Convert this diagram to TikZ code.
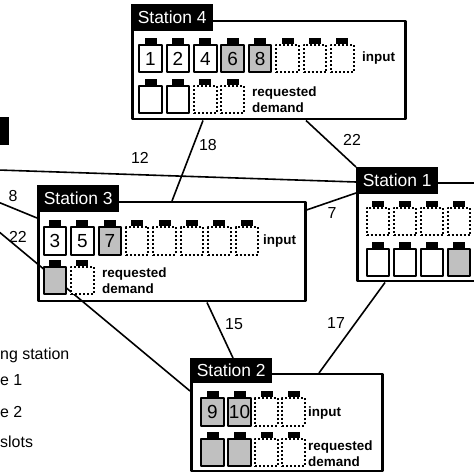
\documentclass[tikz,border=0pt]{standalone}
\usepackage{fontspec}
\setmainfont{Liberation Sans}
\usetikzlibrary{calc}
\definecolor{slotgray}{RGB}{192,192,192}
\begin{document}
\begin{tikzpicture}[line join=bevel,
  frame/.style={draw, line width=2.5bp, anchor=north west, inner sep=0pt},
  title/.style={fill=black, text=white, anchor=north west, inner sep=0pt, minimum width=82bp, minimum height=27bp, font=\fontsize{17.5}{20}\selectfont},
  capbox/.style={fill=black, draw=none, minimum width=12bp, minimum height=6bp, inner sep=0pt},
  slotbox/.style={draw, line width=2bp, fill=white, minimum width=22.5bp, minimum height=27.5bp, inner sep=0pt, font=\fontsize{19}{20}\selectfont, label={[capbox]north:}},
  fullslot/.style={slotbox, fill=slotgray},
  freeslot/.style={slotbox, dotted},
  edge/.style={line width=1.6bp},
  weight/.style={inner sep=0pt, font=\fontsize{16}{18}\selectfont},
  note/.style={inner sep=0pt, anchor=west, align=left, font=\bfseries\fontsize{13.5}{16}\selectfont},
  legend/.style={inner sep=0pt, anchor=west, font=\fontsize{16}{18}\selectfont}]
\useasboundingbox (0bp,0bp) rectangle (474bp,474bp);
%%
  % Node: Station 4
  \node [frame, minimum width=273bp, minimum height=98bp] (st4) at (131bp,454bp) {};
  % Node: Station 3
  \node [frame, minimum width=267bp, minimum height=99bp] (st3) at (37bp,273bp) {};
  % Node: Station 1
  \node [frame, minimum width=132bp, minimum height=98bp] (st1) at (356bp,292bp) {};
  % Node: Station 2
  \node [frame, minimum width=191bp, minimum height=97bp] (st2) at (190bp,101bp) {};
  % Node: station off the left edge
  \coordinate (west12) at (-2bp,304bp);
  \coordinate (west8) at (-2bp,272bp);
  \coordinate (west22) at (-2bp,243bp);
%%
  % Edge: Station 4 -- Station 3
  \draw [edge] ($(st4.south west)+(72bp,0)$) -- ($(st3.north west)+(135bp,0)$);
  \node [weight] (w18) at (208bp,329bp) {18};
  % Edge: Station 4 -- Station 1
  \draw [edge] ($(st4.south west)+(175bp,0)$) -- ($(st1.north west)+(0,15bp)$);
  \node [weight] (w22a) at (352bp,334bp) {22};
  % Edge: west -- Station 1
  \draw [edge] (west12) -- (st1.north west);
  \node [weight] (w12) at (140bp,316bp) {12};
  % Edge: Station 3 -- Station 1
  \draw [edge] ($(st3.north east)+(0,-9bp)$) -- ($(st1.north west)+(0,-11bp)$);
  \node [weight] (w7) at (332bp,261bp) {7};
  % Edge: west -- Station 3
  \draw [edge] (west8) -- ($(st3.north west)+(0,-17bp)$);
  \node [weight] (w8) at (13bp,278bp) {8};
  % Edge: west -- Station 2
  \draw [edge] (west22) -- ($(st2.north west)+(0,-18bp)$);
  \node [weight] (w22b) at (18bp,237bp) {22};
  % Edge: Station 3 -- Station 2
  \draw [edge] ($(st3.south west)+(170bp,0)$) -- ($(st2.north west)+(43bp,15bp)$);
  \node [weight] (w15) at (234bp,150bp) {15};
  % Edge: Station 1 -- Station 2
  \draw [edge] ($(st1.south west)+(29bp,0)$) -- ($(st2.north west)+(129bp,0)$);
  \node [weight] (w17) at (336bp,151bp) {17};
%%
  % Node: Station 4
\begin{scope}
  \node [title] (st4t) at (131bp,470bp) {Station 4};
  \node [slotbox] (s4a1) at (150.5bp,415.5bp) {1};
  \node [slotbox] (s4a2) at (177.9bp,415.5bp) {2};
  \node [slotbox] (s4a3) at (205.3bp,415.5bp) {4};
  \node [fullslot] (s4a4) at (232.7bp,415.5bp) {6};
  \node [fullslot] (s4a5) at (260.1bp,415.5bp) {8};
  \node [freeslot] (s4a6) at (287.5bp,415.5bp) {};
  \node [freeslot] (s4a7) at (314.9bp,415.5bp) {};
  \node [freeslot] (s4a8) at (342.3bp,415.5bp) {};
  \node [note] (s4in) at (362bp,416bp) {input};
  \node [slotbox] (s4b1) at (150.5bp,374.5bp) {};
  \node [slotbox] (s4b2) at (177.9bp,374.5bp) {};
  \node [freeslot] (s4b3) at (205.3bp,374.5bp) {};
  \node [freeslot] (s4b4) at (232.7bp,374.5bp) {};
  \node [note] (s4dem) at (252bp,374bp) {requested\\demand};
\end{scope}
  % Node: Station 3
\begin{scope}
  \node [title] (st3t) at (37bp,289bp) {Station 3};
  \node [slotbox] (s3a1) at (55bp,233bp) {3};
  \node [slotbox] (s3a2) at (82.4bp,233bp) {5};
  \node [fullslot] (s3a3) at (109.8bp,233bp) {7};
  \node [freeslot] (s3a4) at (137.2bp,233bp) {};
  \node [freeslot] (s3a5) at (164.6bp,233bp) {};
  \node [freeslot] (s3a6) at (192bp,233bp) {};
  \node [freeslot] (s3a7) at (219.4bp,233bp) {};
  \node [freeslot] (s3a8) at (246.8bp,233bp) {};
  \node [note] (s3in) at (263bp,233bp) {input};
  \node [fullslot] (s3b1) at (55bp,193.5bp) {};
  \node [freeslot] (s3b2) at (82.4bp,193.5bp) {};
  \node [note] (s3dem) at (102bp,193.5bp) {requested\\demand};
\end{scope}
  % Node: Station 1
\begin{scope}
  \node [title] (st1t) at (356bp,307bp) {Station 1};
  \node [freeslot] (s1a1) at (378bp,252.5bp) {};
  \node [freeslot] (s1a2) at (405bp,252.5bp) {};
  \node [freeslot] (s1a3) at (432bp,252.5bp) {};
  \node [freeslot] (s1a4) at (459bp,252.5bp) {};
  \node [slotbox] (s1b1) at (378bp,211.5bp) {};
  \node [slotbox] (s1b2) at (405bp,211.5bp) {};
  \node [slotbox] (s1b3) at (432bp,211.5bp) {};
  \node [fullslot] (s1b4) at (459bp,211.5bp) {};
\end{scope}
  % Node: Station 2
\begin{scope}
  \node [title, minimum height=25bp] (st2t) at (190bp,116bp) {Station 2};
  \node [fullslot] (s2a1) at (212.5bp,62bp) {9};
  \node [fullslot] (s2a2) at (239.5bp,62bp) {10};
  \node [freeslot] (s2a3) at (266.5bp,62bp) {};
  \node [freeslot] (s2a4) at (293.5bp,62bp) {};
  \node [note] (s2in) at (308bp,61bp) {input};
  \node [fullslot] (s2b1) at (212.5bp,21.5bp) {};
  \node [fullslot] (s2b2) at (239.5bp,21.5bp) {};
  \node [freeslot] (s2b3) at (266.5bp,21.5bp) {};
  \node [freeslot] (s2b4) at (293.5bp,21.5bp) {};
  \node [note] (s2dem) at (308bp,20bp) {requested\\demand};
\end{scope}
  % Node: legend
\begin{scope}
  \node [fill=black, inner sep=0pt, minimum width=9bp, minimum height=28bp, anchor=north west] (lgbox) at (0bp,357bp) {};
  \node [legend] (lg1) at (0bp,119bp) {ng station};
  \node [legend] (lg2) at (0bp,94bp) {e 1};
  \node [legend] (lg3) at (0bp,62bp) {e 2};
  \node [legend] (lg4) at (0bp,32bp) {slots};
\end{scope}
%
\end{tikzpicture}
\end{document}
